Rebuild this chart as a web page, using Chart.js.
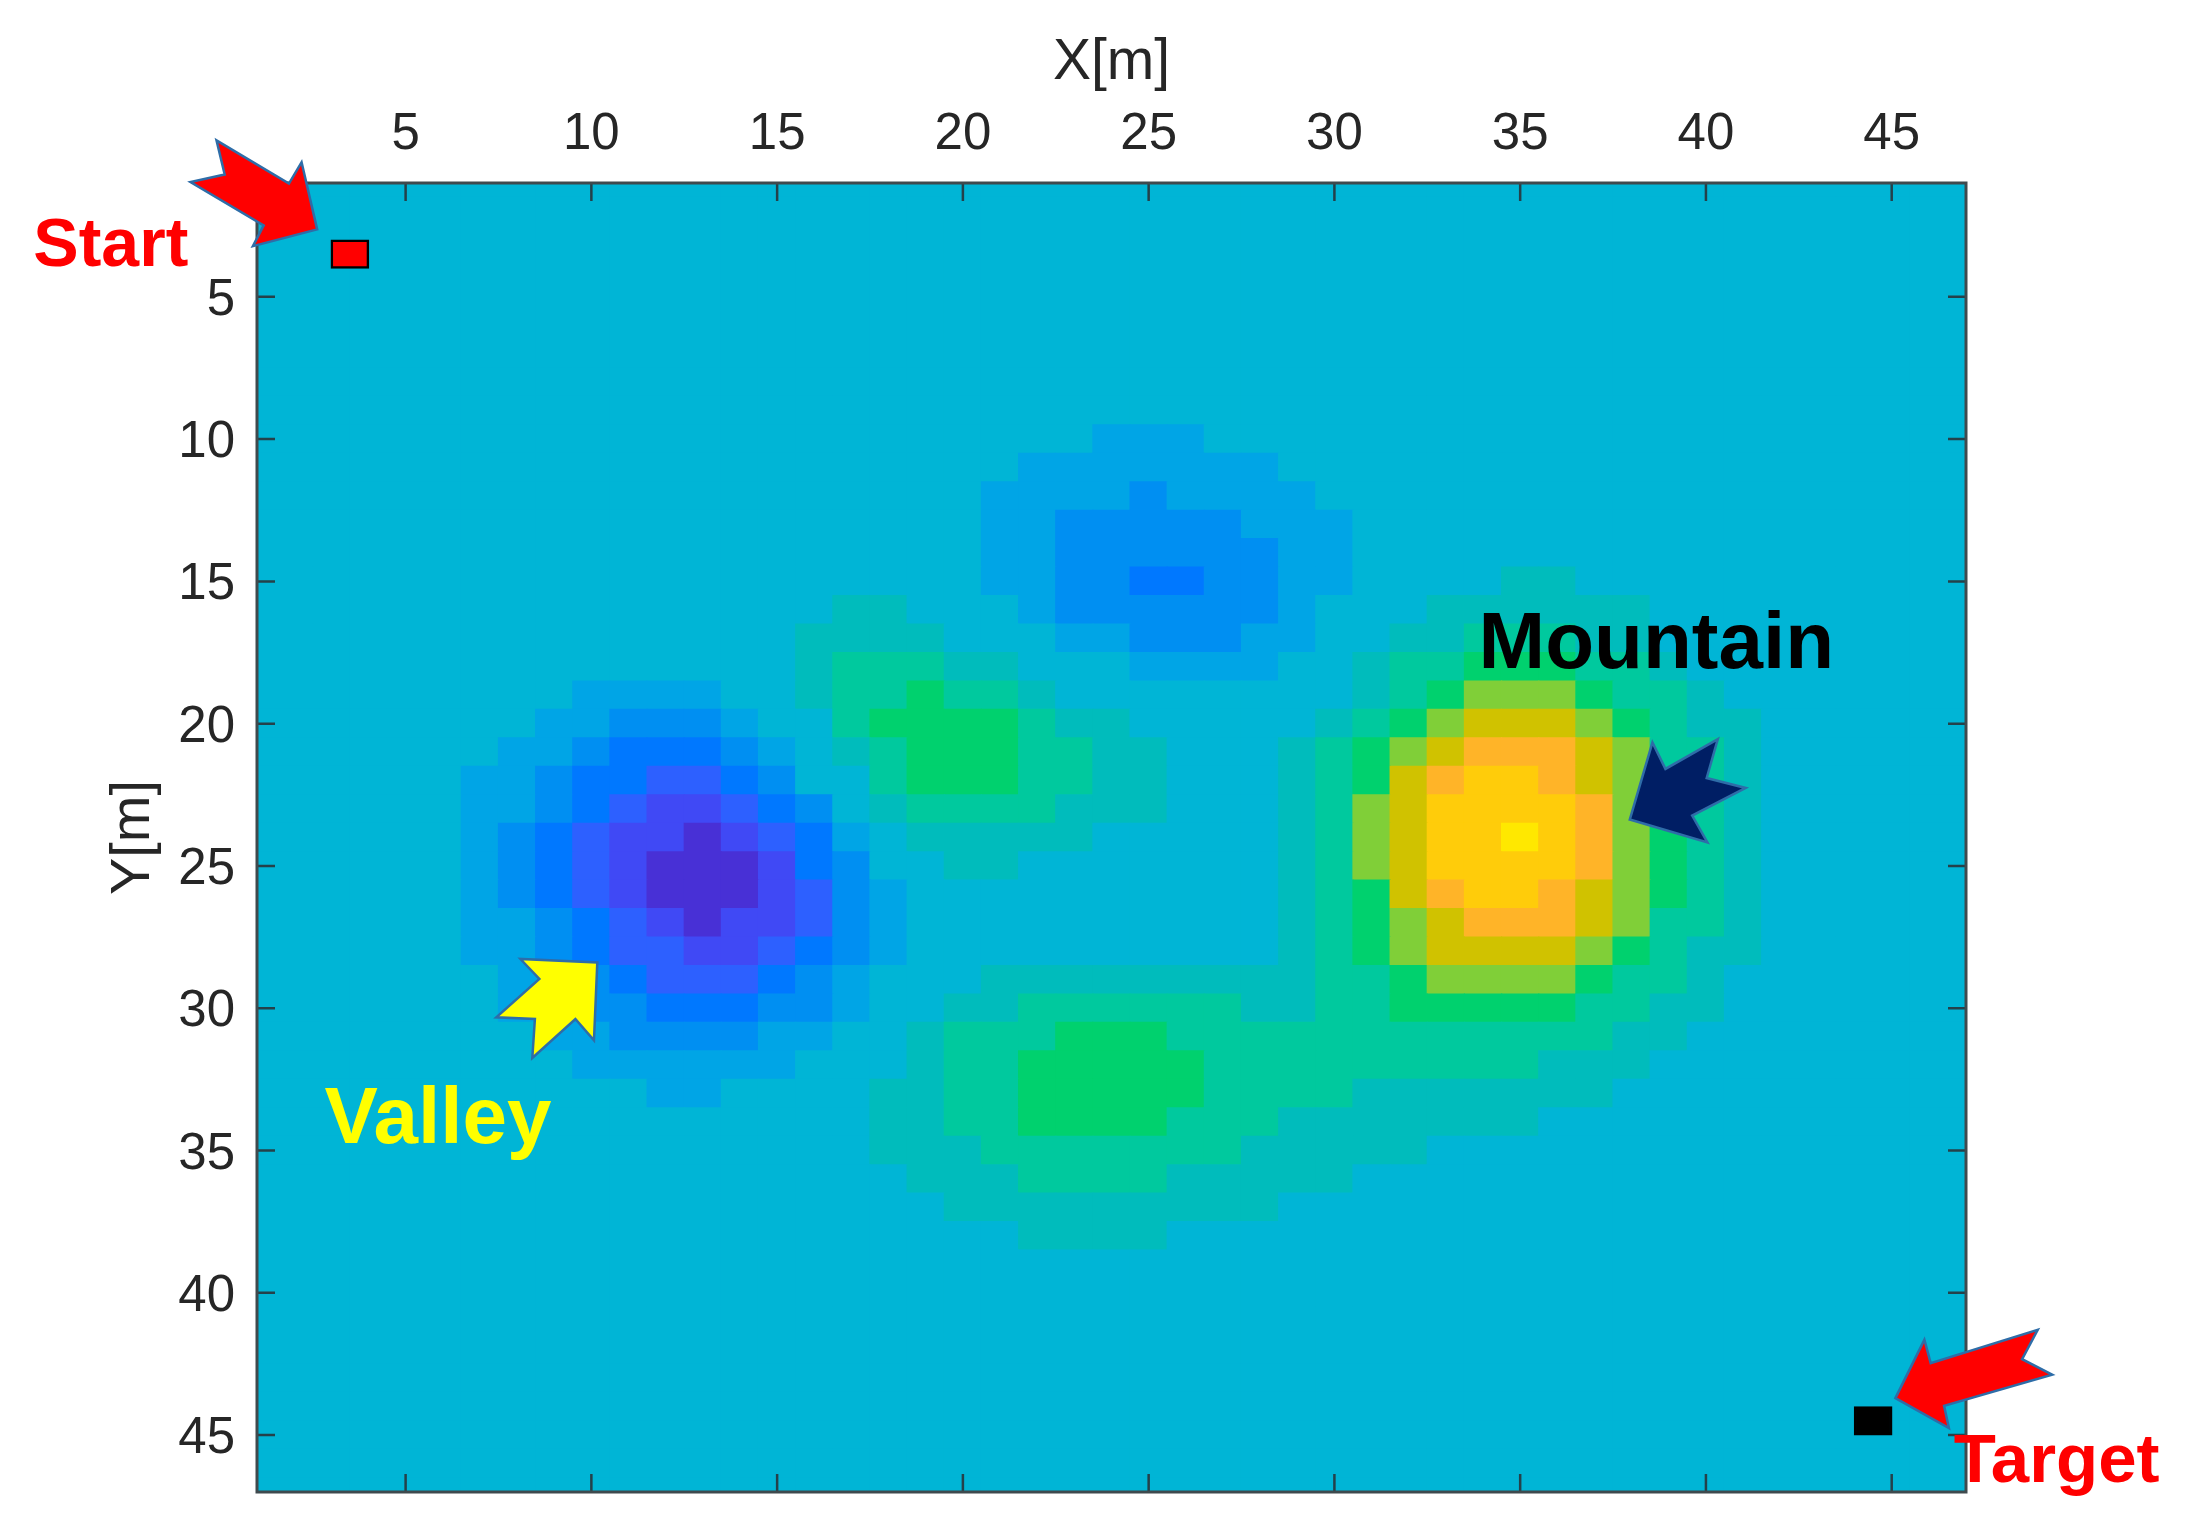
<!DOCTYPE html>
<html>
<head>
<meta charset="utf-8">
<title>Terrain map</title>
<script src="https://cdn.jsdelivr.net/npm/chart.js@4/dist/chart.umd.min.js"></script>
<style>
    body { margin: 0; background: #fff; }
    canvas { display: block; }
</style>
</head>
<body>
<canvas id="terrainChart" width="2190" height="1539"></canvas>
<script>
// Tick labels of both axes
const xTicks = [5, 10, 15, 20, 25, 30, 35, 40, 45];
const yTicks = [5, 10, 15, 20, 25, 30, 35, 40, 45];

// Height level of each cell, one line per Y (1 to 47), one number per X (1 to 47)
const heights = [
    [0,0,0,0,0, 0,0,0,0,0, 0,0,0,0,0, 0,0,0,0,0, 0,0,0,0,0, 0,0,0,0,0, 0,0,0,0,0, 0,0,0,0,0, 0,0,0,0,0, 0,0],
    [0,0,0,0,0, 0,0,0,0,0, 0,0,0,0,0, 0,0,0,0,0, 0,0,0,0,0, 0,0,0,0,0, 0,0,0,0,0, 0,0,0,0,0, 0,0,0,0,0, 0,0],
    [0,0,0,0,0, 0,0,0,0,0, 0,0,0,0,0, 0,0,0,0,0, 0,0,0,0,0, 0,0,0,0,0, 0,0,0,0,0, 0,0,0,0,0, 0,0,0,0,0, 0,0],
    [0,0,0,0,0, 0,0,0,0,0, 0,0,0,0,0, 0,0,0,0,0, 0,0,0,0,0, 0,0,0,0,0, 0,0,0,0,0, 0,0,0,0,0, 0,0,0,0,0, 0,0],
    [0,0,0,0,0, 0,0,0,0,0, 0,0,0,0,0, 0,0,0,0,0, 0,0,0,0,0, 0,0,0,0,0, 0,0,0,0,0, 0,0,0,0,0, 0,0,0,0,0, 0,0],
    [0,0,0,0,0, 0,0,0,0,0, 0,0,0,0,0, 0,0,0,0,0, 0,0,0,0,0, 0,0,0,0,0, 0,0,0,0,0, 0,0,0,0,0, 0,0,0,0,0, 0,0],
    [0,0,0,0,0, 0,0,0,0,0, 0,0,0,0,0, 0,0,0,0,0, 0,0,0,0,0, 0,0,0,0,0, 0,0,0,0,0, 0,0,0,0,0, 0,0,0,0,0, 0,0],
    [0,0,0,0,0, 0,0,0,0,0, 0,0,0,0,0, 0,0,0,0,0, 0,0,0,0,0, 0,0,0,0,0, 0,0,0,0,0, 0,0,0,0,0, 0,0,0,0,0, 0,0],
    [0,0,0,0,0, 0,0,0,0,0, 0,0,0,0,0, 0,0,0,0,0, 0,0,0,0,0, 0,0,0,0,0, 0,0,0,0,0, 0,0,0,0,0, 0,0,0,0,0, 0,0],
    [0,0,0,0,0, 0,0,0,0,0, 0,0,0,0,0, 0,0,0,0,0, 0,0,0,-1,-1, -1,0,0,0,0, 0,0,0,0,0, 0,0,0,0,0, 0,0,0,0,0, 0,0],
    [0,0,0,0,0, 0,0,0,0,0, 0,0,0,0,0, 0,0,0,0,0, 0,-1,-1,-1,-1, -1,-1,-1,0,0, 0,0,0,0,0, 0,0,0,0,0, 0,0,0,0,0, 0,0],
    [0,0,0,0,0, 0,0,0,0,0, 0,0,0,0,0, 0,0,0,0,0, -1,-1,-1,-1,-2, -1,-1,-1,-1,0, 0,0,0,0,0, 0,0,0,0,0, 0,0,0,0,0, 0,0],
    [0,0,0,0,0, 0,0,0,0,0, 0,0,0,0,0, 0,0,0,0,0, -1,-1,-2,-2,-2, -2,-2,-1,-1,-1, 0,0,0,0,0, 0,0,0,0,0, 0,0,0,0,0, 0,0],
    [0,0,0,0,0, 0,0,0,0,0, 0,0,0,0,0, 0,0,0,0,0, -1,-1,-2,-2,-2, -2,-2,-2,-1,-1, 0,0,0,0,0, 0,0,0,0,0, 0,0,0,0,0, 0,0],
    [0,0,0,0,0, 0,0,0,0,0, 0,0,0,0,0, 0,0,0,0,0, -1,-1,-2,-2,-3, -3,-2,-2,-1,-1, 0,0,0,0,1, 1,0,0,0,0, 0,0,0,0,0, 0,0],
    [0,0,0,0,0, 0,0,0,0,0, 0,0,0,0,0, 0,1,1,0,0, 0,-1,-2,-2,-2, -2,-2,-2,-1,0, 0,0,1,1,1, 1,1,1,0,0, 0,0,0,0,0, 0,0],
    [0,0,0,0,0, 0,0,0,0,0, 0,0,0,0,0, 1,1,1,1,0, 0,0,-1,-1,-2, -2,-2,-1,-1,0, 0,1,1,2,2, 2,1,1,0,0, 0,0,0,0,0, 0,0],
    [0,0,0,0,0, 0,0,0,0,0, 0,0,0,0,0, 1,2,2,2,1, 1,0,0,0,-1, -1,-1,-1,0,0, 1,2,2,3,3, 3,2,2,1,0, 0,0,0,0,0, 0,0],
    [0,0,0,0,0, 0,0,0,0,-1, -1,-1,-1,0,0, 1,2,2,3,2, 2,1,0,0,0, 0,0,0,0,0, 1,2,3,4,4, 4,3,2,2,1, 0,0,0,0,0, 0,0],
    [0,0,0,0,0, 0,0,0,-1,-1, -2,-2,-2,-1,0, 0,2,3,3,3, 3,2,1,1,0, 0,0,0,0,1, 2,3,4,5,5, 5,4,3,2,1, 1,0,0,0,0, 0,0],
    [0,0,0,0,0, 0,0,-1,-1,-2, -3,-3,-3,-2,-1, 0,1,2,3,3, 3,2,2,1,1, 0,0,0,1,2, 3,4,5,6,6, 6,5,4,2,2, 1,0,0,0,0, 0,0],
    [0,0,0,0,0, 0,-1,-1,-2,-3, -3,-4,-4,-3,-2, 0,0,2,3,3, 3,2,2,1,1, 0,0,0,1,2, 3,5,6,7,7, 6,5,4,2,2, 1,0,0,0,0, 0,0],
    [0,0,0,0,0, 0,-1,-1,-2,-3, -4,-5,-5,-4,-3, -2,0,1,2,2, 2,2,1,1,1, 0,0,0,1,2, 4,5,7,7,7, 7,6,4,3,2, 1,0,0,0,0, 0,0],
    [0,0,0,0,0, 0,-1,-2,-3,-4, -5,-5,-6,-5,-4, -3,-1,0,1,1, 1,1,1,0,0, 0,0,0,1,2, 4,5,7,7,8, 7,6,4,3,2, 1,0,0,0,0, 0,0],
    [0,0,0,0,0, 0,-1,-2,-3,-4, -5,-6,-6,-6,-5, -3,-2,0,0,1, 1,0,0,0,0, 0,0,0,1,2, 4,5,7,7,7, 7,6,4,3,2, 1,0,0,0,0, 0,0],
    [0,0,0,0,0, 0,-1,-2,-3,-4, -5,-6,-6,-6,-5, -4,-2,-1,0,0, 0,0,0,0,0, 0,0,0,1,2, 3,5,6,7,7, 6,5,4,3,2, 1,0,0,0,0, 0,0],
    [0,0,0,0,0, 0,-1,-1,-2,-3, -4,-5,-6,-5,-5, -4,-2,-1,0,0, 0,0,0,0,0, 0,0,0,1,2, 3,4,5,6,6, 6,5,4,2,2, 1,0,0,0,0, 0,0],
    [0,0,0,0,0, 0,-1,-1,-2,-3, -4,-4,-5,-5,-4, -3,-2,-1,0,0, 0,0,0,0,0, 0,0,0,1,2, 3,4,5,5,5, 5,4,3,2,1, 1,0,0,0,0, 0,0],
    [0,0,0,0,0, 0,0,-1,-1,-2, -3,-4,-4,-4,-3, -2,-1,0,0,0, 1,1,1,1,1, 1,1,1,1,2, 2,3,4,4,4, 4,3,2,2,1, 0,0,0,0,0, 0,0],
    [0,0,0,0,0, 0,0,-1,-1,-2, -2,-3,-3,-3,-2, -2,-1,0,0,1, 1,2,2,2,2, 2,2,1,1,2, 2,3,3,3,3, 3,2,2,1,1, 0,0,0,0,0, 0,0],
    [0,0,0,0,0, 0,0,0,-1,-1, -2,-2,-2,-2,-1, -1,0,0,1,2, 2,2,3,3,3, 2,2,2,2,2, 2,2,2,2,2, 2,2,1,1,0, 0,0,0,0,0, 0,0],
    [0,0,0,0,0, 0,0,0,0,-1, -1,-1,-1,-1,-1, 0,0,0,1,2, 2,3,3,3,3, 3,2,2,2,2, 2,2,2,2,2, 1,1,1,0,0, 0,0,0,0,0, 0,0],
    [0,0,0,0,0, 0,0,0,0,0, 0,-1,-1,0,0, 0,0,1,1,2, 2,3,3,3,3, 3,2,2,2,2, 1,1,1,1,1, 1,1,0,0,0, 0,0,0,0,0, 0,0],
    [0,0,0,0,0, 0,0,0,0,0, 0,0,0,0,0, 0,0,1,1,2, 2,3,3,3,3, 2,2,2,1,1, 1,1,1,1,1, 0,0,0,0,0, 0,0,0,0,0, 0,0],
    [0,0,0,0,0, 0,0,0,0,0, 0,0,0,0,0, 0,0,1,1,1, 2,2,2,2,2, 2,2,1,1,1, 1,1,0,0,0, 0,0,0,0,0, 0,0,0,0,0, 0,0],
    [0,0,0,0,0, 0,0,0,0,0, 0,0,0,0,0, 0,0,0,1,1, 1,2,2,2,2, 1,1,1,1,1, 0,0,0,0,0, 0,0,0,0,0, 0,0,0,0,0, 0,0],
    [0,0,0,0,0, 0,0,0,0,0, 0,0,0,0,0, 0,0,0,0,1, 1,1,1,1,1, 1,1,1,0,0, 0,0,0,0,0, 0,0,0,0,0, 0,0,0,0,0, 0,0],
    [0,0,0,0,0, 0,0,0,0,0, 0,0,0,0,0, 0,0,0,0,0, 0,1,1,1,1, 0,0,0,0,0, 0,0,0,0,0, 0,0,0,0,0, 0,0,0,0,0, 0,0],
    [0,0,0,0,0, 0,0,0,0,0, 0,0,0,0,0, 0,0,0,0,0, 0,0,0,0,0, 0,0,0,0,0, 0,0,0,0,0, 0,0,0,0,0, 0,0,0,0,0, 0,0],
    [0,0,0,0,0, 0,0,0,0,0, 0,0,0,0,0, 0,0,0,0,0, 0,0,0,0,0, 0,0,0,0,0, 0,0,0,0,0, 0,0,0,0,0, 0,0,0,0,0, 0,0],
    [0,0,0,0,0, 0,0,0,0,0, 0,0,0,0,0, 0,0,0,0,0, 0,0,0,0,0, 0,0,0,0,0, 0,0,0,0,0, 0,0,0,0,0, 0,0,0,0,0, 0,0],
    [0,0,0,0,0, 0,0,0,0,0, 0,0,0,0,0, 0,0,0,0,0, 0,0,0,0,0, 0,0,0,0,0, 0,0,0,0,0, 0,0,0,0,0, 0,0,0,0,0, 0,0],
    [0,0,0,0,0, 0,0,0,0,0, 0,0,0,0,0, 0,0,0,0,0, 0,0,0,0,0, 0,0,0,0,0, 0,0,0,0,0, 0,0,0,0,0, 0,0,0,0,0, 0,0],
    [0,0,0,0,0, 0,0,0,0,0, 0,0,0,0,0, 0,0,0,0,0, 0,0,0,0,0, 0,0,0,0,0, 0,0,0,0,0, 0,0,0,0,0, 0,0,0,0,0, 0,0],
    [0,0,0,0,0, 0,0,0,0,0, 0,0,0,0,0, 0,0,0,0,0, 0,0,0,0,0, 0,0,0,0,0, 0,0,0,0,0, 0,0,0,0,0, 0,0,0,0,0, 0,0],
    [0,0,0,0,0, 0,0,0,0,0, 0,0,0,0,0, 0,0,0,0,0, 0,0,0,0,0, 0,0,0,0,0, 0,0,0,0,0, 0,0,0,0,0, 0,0,0,0,0, 0,0],
    [0,0,0,0,0, 0,0,0,0,0, 0,0,0,0,0, 0,0,0,0,0, 0,0,0,0,0, 0,0,0,0,0, 0,0,0,0,0, 0,0,0,0,0, 0,0,0,0,0, 0,0]
];

// Height levels and the colour each one is painted with
const levels = [-6, -5, -4, -3, -2, -1, 0, 1, 2, 3, 4, 5, 6, 7, 8];
const levelColors = ['#4830D6', '#4049F5', '#2D60FF', '#0078FF', '#008FF2', '#00A5E6', '#00B5D6',
    '#00BCBC', '#00C99E', '#00D16E', '#80CF38', '#D0C200', '#FFB428', '#FFCC0A', '#FFE800'];

// Start and target squares: cell number on each axis
const markerX = [3, 44];
const markerY = [3, 44];
const markerColors = ['#FF0000', '#000000'];

// Callouts in axis units
const labelTexts = ['Start', 'Valley', 'Mountain', 'Target'];
const labelX = [-5.02, 2.82, 33.88, 46.67];
const labelY = [3.93, 34.73, 18.03, 46.64];
const labelSizes = [68, 80, 80, 69];
const labelColors = ['#FF0000', '#FFFF00', '#000000', '#FF0000'];

const startArrow = [[2.62, 2.63], [0.89, 3.22], [1.18, 2.49], [-0.79, 0.97], [0.13, 0.70], [-0.09, -0.50], [1.86, 1.02], [2.20, 0.27]];
const valleyArrow = [[10.16, 28.39], [10.07, 31.13], [9.57, 30.38], [8.41, 31.75], [8.48, 30.38], [7.44, 30.32], [8.60, 28.97], [8.09, 28.27]];
const mountainArrow = [[37.95, 23.37], [40.04, 24.17], [39.63, 23.23], [41.07, 22.26], [40.02, 21.91], [40.32, 20.54], [38.91, 21.59], [38.56, 20.66]];
const targetArrow = [[45.10, 43.70], [46.54, 44.75], [46.41, 43.97], [49.32, 42.88], [48.51, 42.33], [48.93, 41.30], [46.05, 42.47], [45.88, 41.65]];
const arrows = [startArrow, valleyArrow, mountainArrow, targetArrow];
const arrowColors = ['#FF0000', '#FFFF00', '#001E64', '#FF0000'];

const fontFamily = '"Liberation Sans", Arial, sans-serif';
const tickColor = '#262626';

// Every cell is centred on its integer position
const cells = [];
heights.forEach((row, j) => {
    row.forEach((level, i) => {
        cells.push({ x: i + 1, y: [j + 0.5, j + 1.5], level: level });
    });
});

// Frame and inward ticks on all four sides
const framePlugin = {
    id: 'frame',
    afterDatasetsDraw(chart) {
        const { ctx, chartArea, scales } = chart;
        const tickLength = 18;
        ctx.save();
        ctx.strokeStyle = '#24414A';
        ctx.lineWidth = 2.5;
        ctx.beginPath();
        xTicks.forEach(value => {
            const px = scales.x.getPixelForValue(value);
            ctx.moveTo(px, chartArea.top);
            ctx.lineTo(px, chartArea.top + tickLength);
            ctx.moveTo(px, chartArea.bottom);
            ctx.lineTo(px, chartArea.bottom - tickLength);
        });
        yTicks.forEach(value => {
            const py = scales.y.getPixelForValue(value);
            ctx.moveTo(chartArea.left, py);
            ctx.lineTo(chartArea.left + tickLength, py);
            ctx.moveTo(chartArea.right, py);
            ctx.lineTo(chartArea.right - tickLength, py);
        });
        ctx.stroke();
        ctx.strokeStyle = '#3F4A4E';
        ctx.lineWidth = 3;
        ctx.strokeRect(chartArea.left, chartArea.top, chartArea.width, chartArea.height);
        ctx.restore();
    }
};

// Arrows and text callouts go on top of everything
const calloutPlugin = {
    id: 'callouts',
    afterDraw(chart) {
        const { ctx, scales } = chart;
        ctx.save();
        arrows.forEach((points, index) => {
            ctx.beginPath();
            points.forEach((point, k) => {
                const px = scales.x.getPixelForValue(point[0]);
                const py = scales.y.getPixelForValue(point[1]);
                if (k === 0) ctx.moveTo(px, py);
                else ctx.lineTo(px, py);
            });
            ctx.closePath();
            ctx.fillStyle = arrowColors[index];
            ctx.fill();
            ctx.strokeStyle = '#2E6DA8';
            ctx.lineWidth = 2.5;
            ctx.lineJoin = 'miter';
            ctx.stroke();
        });
        ctx.textAlign = 'left';
        ctx.textBaseline = 'alphabetic';
        labelTexts.forEach((text, index) => {
            ctx.font = 'bold ' + labelSizes[index] + 'px ' + fontFamily;
            ctx.fillStyle = labelColors[index];
            ctx.fillText(text, scales.x.getPixelForValue(labelX[index]), scales.y.getPixelForValue(labelY[index]));
        });
        ctx.restore();
    }
};

new Chart(document.getElementById('terrainChart'), {
    type: 'bar',
    data: {
        datasets: [
            {
                // Start and target squares, first dataset is painted last.
                // Their own x scale is shifted half a cell, they fill 3..4 and 44..45
                xAxisID: 'xMarkers',
                data: markerX.map((x, index) => ({ x: x, y: [markerY[index], markerY[index] + 1] })),
                backgroundColor: markerColors,
                borderColor: '#000000',
                borderWidth: 2.5,
                borderSkipped: false,
                grouped: false,
                barThickness: 38
            },
            {
                data: cells,
                backgroundColor: ctx => levelColors[levels.indexOf(ctx.raw.level)],
                borderWidth: 0,
                inflateAmount: 0.6,
                grouped: false,
                barPercentage: 1,
                categoryPercentage: 1
            }
        ]
    },
    plugins: [framePlugin, calloutPlugin],
    options: {
        responsive: false,
        animation: false,
        layout: { padding: { right: 224, bottom: 47 } },
        plugins: {
            legend: { display: false },
            tooltip: { enabled: false }
        },
        scales: {
            x: {
                type: 'linear',
                position: 'top',
                offset: false,
                min: 1,
                max: 47,
                afterBuildTicks: scale => { scale.ticks = xTicks.map(value => ({ value: value })); },
                afterFit: scale => { scale.height = 183; },
                grid: { display: false, drawTicks: false, offset: false },
                border: { display: false },
                ticks: {
                    autoSkip: false,
                    maxRotation: 0,
                    padding: 17,
                    color: tickColor,
                    font: { family: fontFamily, size: 51 }
                },
                title: {
                    display: true,
                    text: 'X[m]',
                    color: tickColor,
                    padding: { top: 29, bottom: 0 },
                    font: { family: fontFamily, size: 57 }
                }
            },
            xMarkers: {
                type: 'linear',
                display: false,
                offset: false,
                min: 0.5,
                max: 46.5
            },
            y: {
                type: 'linear',
                reverse: true,
                min: 1,
                max: 47,
                afterBuildTicks: scale => { scale.ticks = yTicks.map(value => ({ value: value })); },
                // the label half height must not shrink the plot area
                afterFit: scale => { scale.width = 257; scale.paddingTop = 0; scale.paddingBottom = 0; },
                grid: { display: false, drawTicks: false },
                border: { display: false },
                ticks: {
                    autoSkip: false,
                    padding: 22,
                    labelOffset: 4,
                    color: tickColor,
                    font: { family: fontFamily, size: 51 }
                },
                title: {
                    display: true,
                    text: 'Y[m]',
                    color: tickColor,
                    padding: { top: 100, bottom: 0 },
                    font: { family: fontFamily, size: 56 }
                }
            }
        }
    }
});
</script>
</body>
</html>
